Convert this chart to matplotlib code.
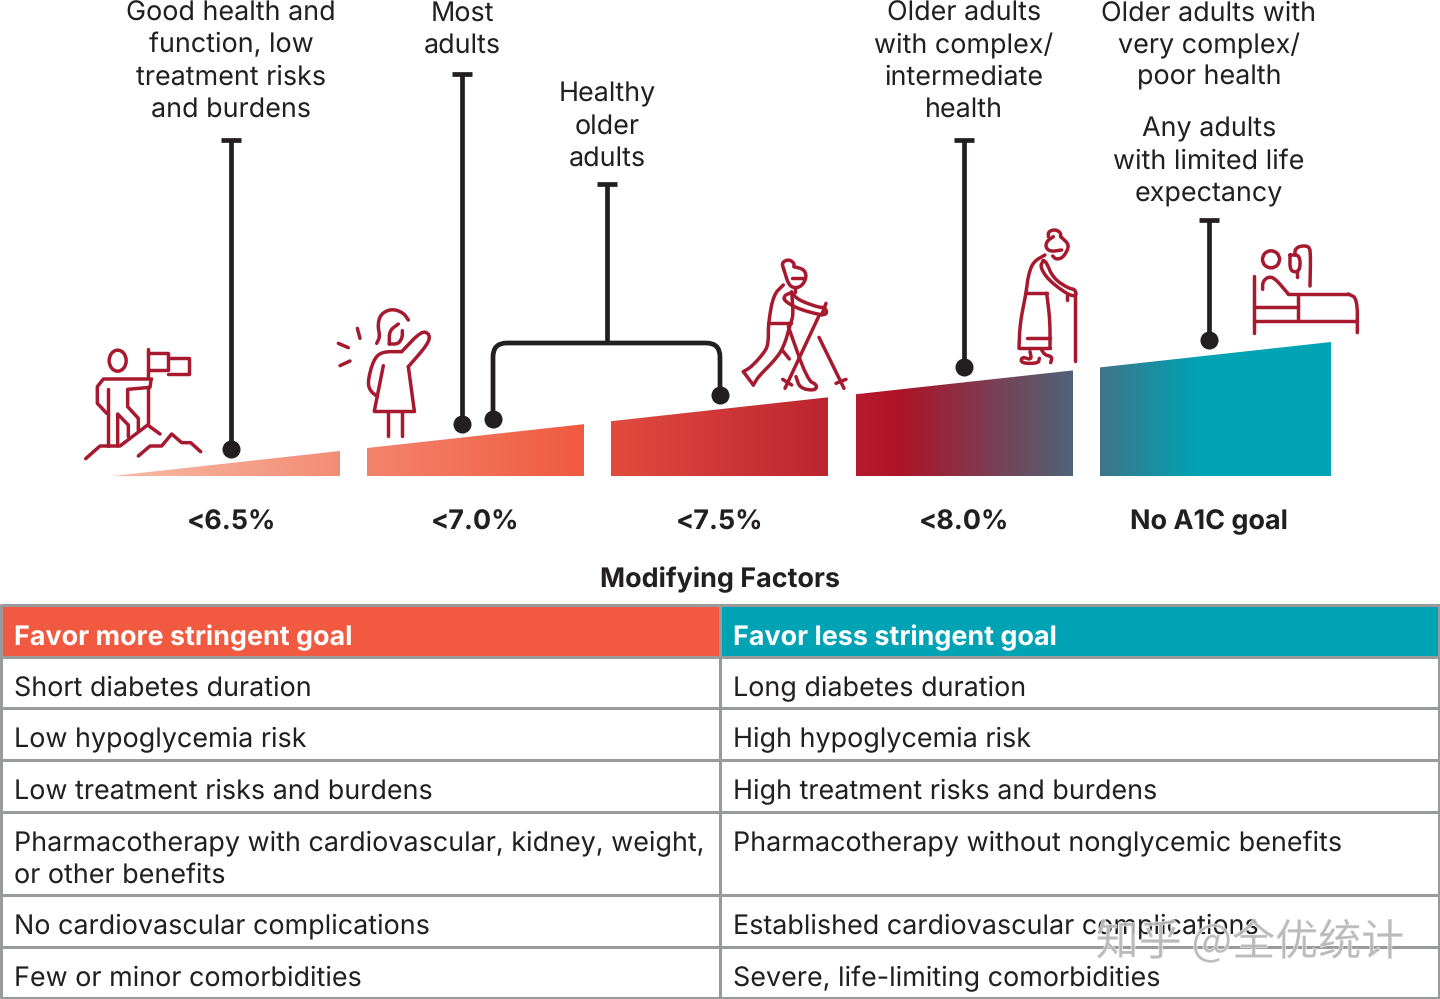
import numpy as np
import matplotlib
matplotlib.use("Agg")
import matplotlib.pyplot as plt
import matplotlib.patheffects as pe
from matplotlib.colors import LinearSegmentedColormap
from matplotlib.patches import Polygon, Rectangle, Ellipse
from matplotlib.path import Path
from matplotlib.patches import PathPatch

plt.rcParams['font.family'] = ['Inter', 'DejaVu Sans']
plt.rcParams['text.hinting'] = 'no_hinting'
plt.rcParams['text.hinting_factor'] = 1

INK = '#231F20'
RED = '#A6192E'
GRID = '#989A9C'
ORANGE = '#F15A40'
TEAL = '#00A3B4'

# ---- data ----
goal_labels = ['<6.5%', '<7.0%', '<7.5%', '<8.0%', 'No A1C goal']
goal_label_x = [231, 475, 720, 964, 1209]
wedge_left = [108, 367, 611, 856, 1100]
wedge_right = [340, 584, 828, 1073, 1331]
wedge_colors = [
    [(0, '#F9BBA5'), (1, '#F28D75')],
    [(0, '#F3846C'), (1, '#F05A40')],
    [(0, '#E24B3E'), (1, '#BC2530')],
    [(0, '#B81B2D'), (0.2, '#AD1328'), (1, '#4F6478')],
    [(0, '#3F7489'), (0.42, '#00A3B4'), (1, '#00A3B4')],
]
ramp_start_x, ramp_base_y = 108, 476.5
ramp_end_x, ramp_end_y = 1331, 342

pop_text = [
    (231, [11, 43, 75, 107], ['Good health and', 'function, low', 'treatment risks', 'and burdens']),
    (462, [11, 43], ['Most', 'adults']),
    (607, [92, 124, 156], ['Healthy', 'older', 'adults']),
    (964, [11, 43, 75, 107], ['Older adults', 'with complex/', 'intermediate', 'health']),
    (1209, [11, 43, 75], ['Older adults with', 'very complex/', 'poor health']),
    (1209, [127, 159, 191], ['Any adults', 'with limited life', 'expectancy']),
]
leader_x = [231, 462, 964, 1209]
leader_top = [140, 74, 140, 220]
leader_dot = [449, 424, 367, 340]
bracket_stem_x, bracket_top, bracket_stem_cap = 607, 343, 184
bracket_left = (493, 419)
bracket_right = (720, 395)

table_title = 'Modifying Factors'
header_left = 'Favor more stringent goal'
header_right = 'Favor less stringent goal'
rows_left = ['Short diabetes duration', 'Low hypoglycemia risk', 'Low treatment risks and burdens',
             'Pharmacotherapy with cardiovascular, kidney, weight,\nor other benefits',
             'No cardiovascular complications', 'Few or minor comorbidities']
rows_right = ['Long diabetes duration', 'High hypoglycemia risk', 'High treatment risks and burdens',
              'Pharmacotherapy without nonglycemic benefits',
              'Established cardiovascular complications', 'Severe, life-limiting comorbidities']
row_lines = [605, 657, 708, 760, 812, 895, 947, 998]

# icons: polylines, scale 1/3 from an origin
climber = [
    [(233,148),(233,235)], [(233,158),(295,158),(295,210),(233,210)],
    [(295,175),(357,175),(357,222),(295,222)],
    [(245,237),(100,237),(82,260),(82,310),(110,340)], [(113,268),(113,438)],
    [(243,240),(240,262),(173,268),(173,320),(205,355),(205,390)], [(233,262),(233,372)],
    [(143,438),(143,342),(175,375),(175,410)],
    [(47,476),(90,438),(150,438),(233,375),(270,402)],
    [(205,468),(240,438),(275,438),(305,402),(335,428),(362,428),(392,455)],
]
woman = [
    [(1015,60),(1000,38),(965,26),(932,42),(923,75),(930,110),(920,130)],
    [(985,72),(958,92),(958,132)], [(958,132),(985,132),(997,112),(997,92)],
    [(995,155),(935,155),(910,180),(893,245),(900,272),(922,290)],
    [(995,155),(1055,92),(1080,103),(1074,132),(1015,200)],
    [(1015,200),(1033,333)], [(1033,333),(913,333)], [(913,333),(940,197)],
    [(953,335),(953,408)], [(995,335),(995,408)],
    [(862,85),(870,115)], [(805,130),(835,143)], [(810,197),(840,183)],
]
walker = [
    [(192,150),(185,128),(205,118),(222,128),(222,140)],
    [(222,140),(252,148),(260,170),(247,197),(225,205),(206,195),(192,150)],
    [(215,175),(248,175)], [(225,203),(225,215)],
    [(190,195),(160,225),(145,310),(145,370),(135,395),(95,440),(70,455)],
    [(70,455),(100,495)], [(100,495),(115,470),(160,425),(190,385),(212,310)],
    [(145,310),(212,310)],
    [(215,218),(195,225),(190,240),(230,265),(300,285),(322,282),(315,262),(295,262),(235,240),(215,218)],
    [(215,215),(220,285),(212,310)],
    [(205,320),(262,480),(292,495),(285,512),(240,505),(228,470)],
    [(298,285),(195,505)], [(188,478),(215,495)], [(318,250),(305,285)],
    [(297,352),(372,505)], [(348,490),(378,478)], [(188,392),(208,417)],
]
elder = [
    [(985,50),(985,35),(1005,28),(1022,38),(1022,50)],
    [(1022,50),(1046,72),(1042,92),(1027,114),(1008,118),(998,108)],
    [(1000,50),(982,62),(976,80),(990,95),(1025,90)],
    [(975,105),(940,125),(925,165),(918,220),(900,310),(897,385)],
    [(897,385),(990,385)], [(990,385),(990,300),(980,220)], [(980,220),(918,220)],
    [(922,353),(990,353)],
    [(970,122),(960,140),(985,180),(1045,225),(1070,228),(1065,208),(1045,205),(1000,175),(978,125),(970,122)],
    [(1065,225),(1065,422)], [(1040,240),(1040,225)],
    [(930,395),(935,420),(905,410),(903,430),(955,430),(958,415)],
    [(965,390),(975,405),(997,410),(992,428)],
]
bed_straight = [
    [(222,168),(222,338)], [(222,262),(355,262)], [(222,302),(532,302)], [(355,225),(355,300)],
    [(350,155),(350,172)], [(325,222),(505,222)],
]
bed_curved = [
    [(248,208),(248,185),(265,170),(285,175),(325,222)],
    [(505,222),(532,235),(532,338)],
    [(330,105),(360,105),(360,155),(330,155),(330,105)],
    [(345,105),(345,88),(360,78),(385,78),(392,95),(390,198)],
]

# ---- figure ----
fig = plt.figure(figsize=(14.4, 9.99), dpi=100, facecolor='white')
ax = fig.add_axes([0, 0, 1, 1])


def ramp_y(x):
    return ramp_base_y + (ramp_end_y - ramp_base_y) * (x - ramp_start_x) / (ramp_end_x - ramp_start_x)


for l, r, cols in zip(wedge_left, wedge_right, wedge_colors):
    cmap = LinearSegmentedColormap.from_list('w', cols)
    im = ax.imshow(np.linspace(0, 1, 256)[None, :], cmap=cmap, aspect='auto',
                   extent=(l, r, ramp_base_y, ramp_y(r)), zorder=2, interpolation='bilinear')
    clip = Polygon([(l, ramp_base_y), (l, ramp_y(l)), (r, ramp_y(r)), (r, ramp_base_y)],
                   closed=True, transform=ax.transData, fc='none', ec='none')
    ax.add_patch(clip)
    im.set_clip_path(clip)


def soften(p, n=2):
    """Corner-cutting so hand-traced outlines read as curves."""
    for _ in range(n):
        q = [p[0]]
        for a, b in zip(p[:-1], p[1:]):
            q += [0.75 * a + 0.25 * b, 0.25 * a + 0.75 * b]
        q.append(p[-1])
        p = np.array(q)
    return p


def icon(lines, ox, oy, smooth=False):
    for ln in lines:
        p = np.array(ln, float)
        if smooth and len(p) > 2:
            p = soften(p)
        ax.plot(ox + p[:, 0] / 3, oy + p[:, 1] / 3, color=RED, lw=2.5,
                solid_capstyle='round', solid_joinstyle='round', zorder=3)


icon(climber, 70, 300)
icon(woman, 70, 300, smooth=True)
icon(walker, 720, 220, smooth=True)
icon(elder, 720, 220, smooth=True)
icon(bed_straight, 1180, 220)
icon(bed_curved, 1180, 220, smooth=True)
ax.add_patch(Ellipse((70 + 143 / 3, 300 + 182 / 3), 17, 21, fc='none', ec=RED, lw=2.5, zorder=3))
ax.add_patch(Ellipse((1180 + 273 / 3, 220 + 118 / 3), 17, 17, fc='none', ec=RED, lw=2.5, zorder=3))

# leaders
LW = 3.4
for x, t, d in zip(leader_x, leader_top, leader_dot):
    ax.plot([x, x], [t, d], color=INK, lw=LW, zorder=4, solid_capstyle='butt')
    ax.plot([x - 10, x + 10], [t, t], color=INK, lw=LW, zorder=4, solid_capstyle='butt')
    ax.plot([x], [d], 'o', color=INK, ms=13, mew=0, zorder=5)

ax.plot([bracket_stem_x, bracket_stem_x], [bracket_stem_cap, bracket_top], color=INK, lw=LW, zorder=4,
        solid_capstyle='butt')
ax.plot([bracket_stem_x - 10, bracket_stem_x + 10], [bracket_stem_cap] * 2, color=INK, lw=LW, zorder=4,
        solid_capstyle='butt')
r = 14
lx, ly = bracket_left
rx, ry = bracket_right
verts = [(lx, ly), (lx, bracket_top + r), (lx, bracket_top), (lx + r, bracket_top),
         (rx - r, bracket_top), (rx, bracket_top), (rx, bracket_top + r), (rx, ry)]
codes = [Path.MOVETO, Path.LINETO, Path.CURVE3, Path.CURVE3, Path.LINETO, Path.CURVE3, Path.CURVE3, Path.LINETO]
ax.add_patch(PathPatch(Path(verts, codes), fc='none', ec=INK, lw=LW, zorder=4))
ax.plot([lx, rx], [ly, ry], 'o', color=INK, ms=13, mew=0, zorder=5, ls='none')

# population labels
FS = 19.4
BFS = 19.4
DY = 2.5
for x, ys, lines in pop_text:
    for y, s in zip(ys, lines):
        ax.text(x, y + DY, s, ha='center', va='center', fontsize=FS, color=INK, zorder=6)

for x, s in zip(goal_label_x, goal_labels):
    ax.text(x, 520 + DY, s, ha='center', va='center', fontsize=BFS, fontweight='bold', color=INK)
ax.text(720, 577 + DY, table_title, ha='center', va='center', fontsize=BFS, fontweight='bold', color=INK)

# table
ax.add_patch(Rectangle((0, row_lines[0]), 720, row_lines[1] - row_lines[0], fc=ORANGE, ec='none', zorder=1))
ax.add_patch(Rectangle((720, row_lines[0]), 720, row_lines[1] - row_lines[0], fc=TEAL, ec='none', zorder=1))
for y in row_lines:
    ax.plot([0, 1440], [y, y], color=GRID, lw=2.2, zorder=2, solid_capstyle='butt')
for x in (1, 720, 1439):
    ax.plot([x, x], [row_lines[0], row_lines[-1]], color=GRID, lw=2.2, zorder=2, solid_capstyle='butt')

hy = (row_lines[0] + row_lines[1]) / 2 + 4 + DY
ax.text(14, hy, header_left, ha='left', va='center', fontsize=BFS, fontweight='bold', color='white', zorder=6)
ax.text(733, hy, header_right, ha='left', va='center', fontsize=BFS, fontweight='bold', color='white', zorder=6)

for i, (a, b) in enumerate(zip(rows_left, rows_right)):
    y = row_lines[i + 1] + 29 + DY
    for x, s in ((14, a), (733, b)):
        for j, part in enumerate(s.split('\n')):
            ax.text(x, y + j * 32, part, ha='left', va='center', fontsize=FS, color=INK, zorder=6)

# watermark
ax.text(1250, 943, '知乎 @全优统计', ha='center', va='center', fontsize=31,
        family=['Noto Sans CJK SC', 'DejaVu Sans'], color='#B4B4B4', alpha=0.7, zorder=7,
        path_effects=[pe.withStroke(linewidth=1.0, foreground='white', alpha=0.7)])

ax.set_xlim(0, 1440)
ax.set_ylim(999, 0)
ax.axis('off')
fig.savefig('out.png', dpi=100, facecolor='white')
